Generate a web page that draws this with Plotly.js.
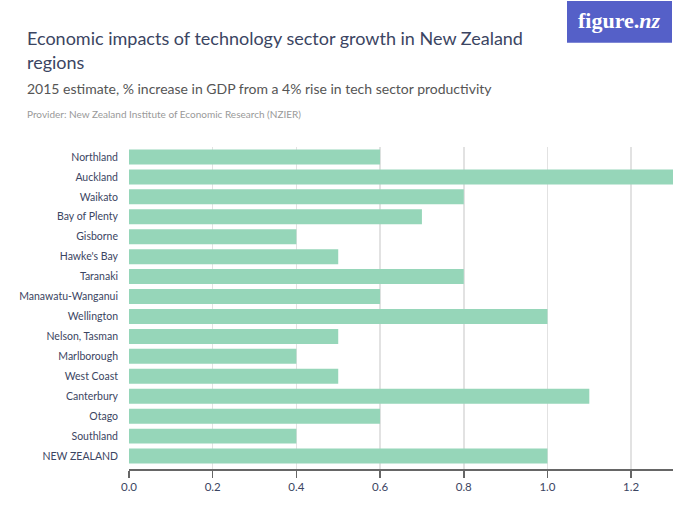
<!DOCTYPE html>
<html>
<head>
<meta charset="utf-8">
<script src="https://cdn.plot.ly/plotly-3.0.1.min.js"></script>
<style>
  body { margin: 0; background: #fff; }
  #myDiv { width: 700px; height: 525px; }
</style>
</head>
<body>
<div id="myDiv"></div>
<script>
var regions = ['Northland', 'Auckland', 'Waikato', 'Bay of Plenty', 'Gisborne', "Hawke's Bay",
  'Taranaki', 'Manawatu-Wanganui', 'Wellington', 'Nelson, Tasman', 'Marlborough',
  'West Coast', 'Canterbury', 'Otago', 'Southland', 'NEW ZEALAND'];
var gdpIncrease = [0.6, 1.3, 0.8, 0.7, 0.4, 0.5, 0.8, 0.6, 1.0, 0.5, 0.4, 0.5, 1.1, 0.6, 0.4, 1.0];
var xTicks = [0, 0.2, 0.4, 0.6, 0.8, 1.0, 1.2];
var xTickLabels = ['0.0', '0.2', '0.4', '0.6', '0.8', '1.0', '1.2'];

var W = 700, H = 525;
var m = {l: 129, r: 27, t: 146.5, b: 55.5};
var pw = W - m.l - m.r, ph = H - m.t - m.b;
// pixel -> paper helpers for the header bits
function px(x) { return (x - m.l) / pw; }
function py(y) { return 1 - (y - m.t) / ph; }

var font = 'Lato, Roboto, sans-serif';
var ink = '#3b4562';

var trace = {
  type: 'bar',
  orientation: 'h',
  x: gdpIncrease,
  y: regions,
  marker: { color: '#96d6b9' },
  hoverinfo: 'x+y'
};

var layout = {
  width: W,
  height: H,
  margin: m,
  paper_bgcolor: '#fff',
  plot_bgcolor: '#fff',
  bargap: 0.25,
  showlegend: false,
  font: { family: font, color: ink },
  xaxis: {
    range: [0, 1.3],
    tickvals: xTicks,
    ticktext: xTickLabels,
    showgrid: true,
    gridcolor: '#e2e2e2',
    gridwidth: 1.5,
    zeroline: false,
    showline: true,
    linecolor: '#666',
    linewidth: 1.5,
    ticks: 'outside',
    ticklen: 7,
    tickcolor: '#666',
    tickwidth: 1.5,
    tickfont: { size: 11.5, color: ink }
  },
  yaxis: {
    type: 'category',
    range: [15.65, -0.5],
    showgrid: false,
    zeroline: false,
    showline: false,
    ticks: '',
    ticklabelstandoff: 10,
    tickfont: { size: 10.5, color: ink }
  },
  shapes: [
    {
      type: 'rect', xref: 'paper', yref: 'paper', layer: 'above',
      x0: px(567), x1: px(672), y0: py(42), y1: py(0),
      fillcolor: '#5560c8', line: { width: 0 }
    }
  ],
  annotations: [
    {
      xref: 'paper', yref: 'paper', x: px(25), y: py(37), xanchor: 'left', yanchor: 'middle',
      text: 'Economic impacts of technology sector growth in New Zealand', showarrow: false,
      font: { size: 18, color: ink, family: font }
    },
    {
      xref: 'paper', yref: 'paper', x: px(25), y: py(61), xanchor: 'left', yanchor: 'middle',
      text: 'regions', showarrow: false,
      font: { size: 18, color: ink, family: font }
    },
    {
      xref: 'paper', yref: 'paper', x: px(25), y: py(88), xanchor: 'left', yanchor: 'middle',
      text: '2015 estimate, % increase in GDP from a 4% rise in tech sector productivity', showarrow: false,
      font: { size: 14, color: '#555', family: font }
    },
    {
      xref: 'paper', yref: 'paper', x: px(25), y: py(113), xanchor: 'left', yanchor: 'middle',
      text: 'Provider: New Zealand Institute of Economic Research (NZIER)', showarrow: false,
      font: { size: 10, color: '#999', family: font }
    },
    {
      xref: 'paper', yref: 'paper', x: px(619), y: py(20), xanchor: 'center', yanchor: 'middle',
      text: '<b>figure.<i>nz</i></b>', showarrow: false,
      font: { size: 22, color: '#fff', family: 'Liberation Serif, DejaVu Serif, serif' }
    }
  ]
};

Plotly.newPlot('myDiv', [trace], layout, { displayModeBar: false, staticPlot: true });
</script>
</body>
</html>
